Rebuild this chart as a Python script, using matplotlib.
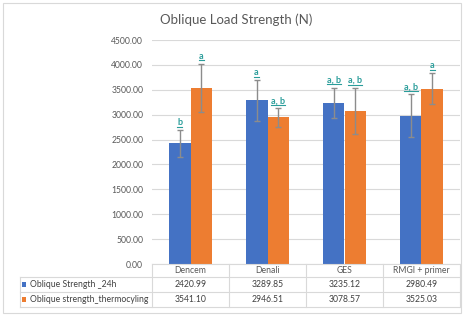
import matplotlib
matplotlib.use("Agg")
import matplotlib.pyplot as plt
from matplotlib.lines import Line2D
from matplotlib.patches import Rectangle
import matplotlib.transforms as mtransforms

categories = ["Dencem", "Denali", "GES", "RMGI + primer"]
series_names = ["Oblique Strength _24h", "Oblique strength_thermocyling"]
vals_24h = [2420.99, 3289.85, 3235.12, 2980.49]
vals_thermo = [3541.10, 2946.51, 3078.57, 3525.03]
err_24h = [270, 410, 310, 425]
err_thermo = [485, 185, 460, 310]
letters_24h = ["b", "a", "a, b", "a, b"]
letters_thermo = ["a", "a, b", "a, b", "a"]
yticks = [0, 500, 1000, 1500, 2000, 2500, 3000, 3500, 4000, 4500]
title = "Oblique Load Strength (N)"

colors = ["#4472C4", "#ED7D31"]
plt.rcParams['font.family'] = ['Lato', 'DejaVu Sans']

W, H = 474, 316
fig = plt.figure(figsize=(W / 100, H / 100), dpi=100)
fig.patch.set_facecolor("white")


def fx(px):
    return px / W


def fy(py):
    return 1 - py / H


fig.add_artist(Rectangle((fx(3), fy(313)), 458 / W, 310 / H, transform=fig.transFigure,
                         fill=False, edgecolor="#d9d9d9", lw=0.8))

L, R, T, B = 152, 460, 40, 264
ax = fig.add_axes([fx(L), fy(B), (R - L) / W, (B - T) / H])
x = list(range(len(categories)))
bw = 0.285
ekw = dict(ecolor="#8c8c8c", elinewidth=1.0, capsize=2.5, capthick=1.0)
ax.bar([i - bw / 2 for i in x], vals_24h, bw, color=colors[0], yerr=err_24h, error_kw=ekw, zorder=3)
ax.bar([i + bw / 2 for i in x], vals_thermo, bw, color=colors[1], yerr=err_thermo, error_kw=ekw, zorder=3)
ax.set_xlim(-0.5, len(categories) - 0.5)
ax.set_ylim(0, 4500)
ax.set_yticks(yticks)
ax.set_yticklabels([f"{v:.2f}" for v in yticks])
ax.tick_params(axis="y", length=0, labelsize=6.2, labelcolor="#595959", pad=6.3)
ax.set_xticks([])
ax.grid(axis="y", color="#d9d9d9", lw=0.8, zorder=0)
for s in ax.spines.values():
    s.set_visible(False)
fig.text(fx(236.5), fy(20), title, ha="center", va="center",
         fontsize=9.5, color="#595959")

# significance letters
teal = "#2a9d9a"
texts = []
for vals, errs, labs, off in [(vals_24h, err_24h, letters_24h, -bw / 2),
                              (vals_thermo, err_thermo, letters_thermo, bw / 2)]:
    for i in x:
        t = ax.annotate(labs[i], (i + off, vals[i] + errs[i]), xytext=(0, 2.0),
                        textcoords="offset points", ha="center", va="bottom",
                        fontsize=6.5, color=teal, fontweight="bold")
        texts.append(t)

# data table (drawn manually)
gc = "#d9d9d9"
col_edges = [152, 229, 306, 383, 460]
row_edges = [264, 277, 292, 307]
def hline(py, x0, x1):
    fig.add_artist(Line2D([fx(x0), fx(x1)], [fy(py), fy(py)], transform=fig.transFigure, color=gc, lw=0.8))
def vline(px, y0, y1):
    fig.add_artist(Line2D([fx(px), fx(px)], [fy(y0), fy(y1)], transform=fig.transFigure, color=gc, lw=0.8))
hline(264, 152, 460)
for py in row_edges[1:]:
    hline(py, 20, 460)
vline(20, 277, 307)
for px in col_edges:
    vline(px, 264, 307)

trans = mtransforms.blended_transform_factory(ax.transData, fig.transFigure)
tc = "#404040"
fs = 6.2
for i, c in enumerate(categories):
    ax.text(i, fy(270.5), c, transform=trans, ha="center", va="center", fontsize=fs, color="#595959")
for k, (vals, name, col) in enumerate([(vals_24h, series_names[0], colors[0]),
                                        (vals_thermo, series_names[1], colors[1])]):
    yc = (row_edges[k + 1] + row_edges[k + 2]) / 2
    for i, v in enumerate(vals):
        ax.text(i, fy(yc), f"{v:.2f}", transform=trans, ha="center", va="center", fontsize=fs, color=tc)
    fig.add_artist(Rectangle((fx(22), fy(yc) - 2.2 / H), 4.4 / W, 4.4 / H,
                             transform=fig.transFigure, color=col, lw=0))
    fig.text(fx(29.5), fy(yc), name, ha="left", va="center", fontsize=fs, color=tc)

fig.canvas.draw()
rend = fig.canvas.get_renderer()
for t in texts:
    bb = t.get_window_extent(rend)
    yy = bb.y0 + 0.5
    fig.add_artist(Line2D([bb.x0 / W, bb.x1 / W], [yy / H, yy / H], transform=fig.transFigure,
                          color=teal, lw=0.8))

fig.savefig("out.png", dpi=100, facecolor="white")
